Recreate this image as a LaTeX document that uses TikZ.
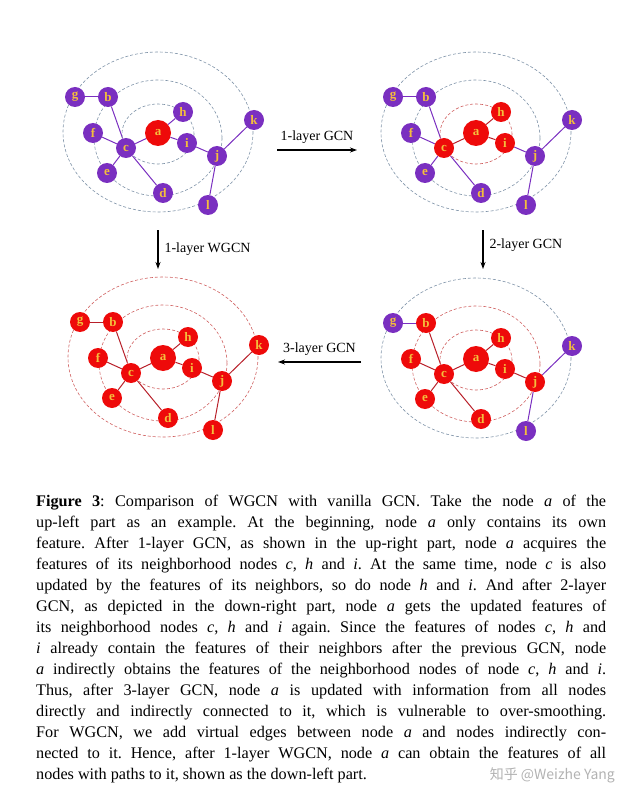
\documentclass[tikz,border=0pt]{standalone}
\usepackage{fontspec}
\setmainfont{Liberation Serif}
\newfontfamily\cjk{Noto Sans CJK SC}
\usetikzlibrary{backgrounds,arrows.meta}
\definecolor{vio}{HTML}{7A2FC0}
\definecolor{rd}{HTML}{EE0A0A}
\definecolor{edred}{HTML}{B8202A}
\definecolor{lab}{HTML}{F4BE3C}
\definecolor{ringblue}{HTML}{7F93A8}
\definecolor{ringred}{HTML}{D06060}
\tikzset{
 nd/.style={circle,inner sep=0pt,minimum size=20pt,text=lab,font=\bfseries\fontsize{13}{13}\selectfont},
 P/.style={nd,fill=vio}, R/.style={nd,fill=rd}, big/.style={minimum size=26pt},
 EP/.style={line width=1pt,draw=vio}, ER/.style={line width=1pt,draw=edred},
 RB/.style={line width=0.6pt,draw=ringblue,dash pattern=on 3pt off 2pt},
 RR/.style={line width=0.6pt,draw=ringred,dash pattern=on 3pt off 2pt},
 stp/.style={line width=1.1pt,-{Stealth[length=7pt,width=5pt]}},
 lbl/.style={font=\fontsize{14}{14}\selectfont,inner sep=1pt}
}
\makeatletter
\newcommand\TestRed[2]{\edef\tmp@t{\noexpand\in@{,#1,}{,#2,}}\tmp@t}
\newcommand\Panel[7]{%
\begin{scope}[shift={(#1,#2)}]
 \draw[#5] (158,134) ellipse [x radius=36,y radius=30];
 \draw[#6] (158,138) ellipse [x radius=64,y radius=58];
 \draw[#7] (158,132) ellipse [x radius=95,y radius=80];
 \foreach \n/\x/\y in {a/158/133,b/108/97,c/126/148,d/163/193,e/107/173,f/93/133,g/75/97,h/183/112,i/187/143,j/217/156,k/254/120,l/208/205}{
  \TestRed{\n}{#4}\ifin@\def\st{R}\else\def\st{P}\fi
  \if a\n\node[\st,big] (#3\n) at (\x,\y) {\n};\else\node[\st] (#3\n) at (\x,\y) {\n};\fi
 }
 \begin{pgfonlayer}{background}
 \foreach \u/\v in {g/b,b/c,f/c,e/c,c/d,c/a,a/h,a/i,i/j,j/k,j/l}{
  \def\es{EP}\TestRed{\u}{#4}\ifin@\TestRed{\v}{#4}\ifin@\def\es{ER}\fi\fi
  \draw[\es] (#3\u) -- (#3\v);
 }
 \end{pgfonlayer}
\end{scope}}
\makeatother
\begin{document}
\begin{tikzpicture}[x=1pt,y=-1pt]
\path[use as bounding box] (0,0) rectangle (631,802);
\Panel{0}{0}{tl}{a}{RB}{RB}{RB}
\Panel{318}{0}{tr}{a,c,h,i}{RR}{RB}{RB}
\Panel{318}{226}{br}{a,b,c,d,e,f,h,i,j}{RR}{RR}{RB}
\Panel{5}{225}{bl}{a,b,c,d,e,f,g,h,i,j,k,l}{RR}{RR}{RR}
\coordinate (s1) at (277,150); \coordinate (t1) at (357,150);
\draw[stp] (s1) -- node[lbl,above=5pt] {1-layer GCN} (t1);
\coordinate (s2) at (158,230); \coordinate (t2) at (158,269);
\draw[stp] (s2) -- node[lbl,right=5pt] {1-layer WGCN} (t2);
\coordinate (s3) at (483,230); \coordinate (t3) at (483,269);
\draw[stp] (s3) -- node[lbl,right=5pt,yshift=4pt] {2-layer GCN} (t3);
\coordinate (s4) at (361,362); \coordinate (t4) at (278,362);
\draw[stp] (s4) -- node[lbl,above=5pt] {3-layer GCN} (t4);
\node[anchor=north west,inner sep=0pt,text width=570pt,align=justify,
  font=\fontsize{16.2}{21}\selectfont\frenchspacing] (cap) at (36,495) {%
\textbf{Figure 3}: Comparison of WGCN with vanilla GCN. Take the node \textit{a} of the\linebreak
up-left part as an example. At the beginning, node \textit{a} only contains its own\linebreak
feature. After 1-layer GCN, as shown in the up-right part, node \textit{a} acquires the\linebreak
features of its neighborhood nodes \textit{c}, \textit{h} and \textit{i}. At the same time, node \textit{c} is also\linebreak
updated by the features of its neighbors, so do node \textit{h} and \textit{i}. And after 2-layer\linebreak
GCN, as depicted in the down-right part, node \textit{a} gets the updated features of\linebreak
its neighborhood nodes \textit{c}, \textit{h} and \textit{i} again. Since the features of nodes \textit{c}, \textit{h} and\linebreak
\textit{i} already contain the features of their neighbors after the previous GCN, node\linebreak
\textit{a} indirectly obtains the features of the neighborhood nodes of node \textit{c}, \textit{h} and \textit{i}.\linebreak
Thus, after 3-layer GCN, node \textit{a} is updated with information from all nodes\linebreak
directly and indirectly connected to it, which is vulnerable to over-smoothing.\linebreak
For WGCN, we add virtual edges between node \textit{a} and nodes indirectly con-\linebreak
nected to it. Hence, after 1-layer WGCN, node \textit{a} can obtain the features of all\linebreak
nodes with paths to it, shown as the down-left part.\par};
\node[anchor=east,inner sep=0pt,text=gray!60,font=\cjk\fontsize{14}{14}\selectfont] (wm) at (615,775) {知乎 @Weizhe Yang};
\end{tikzpicture}
\end{document}
